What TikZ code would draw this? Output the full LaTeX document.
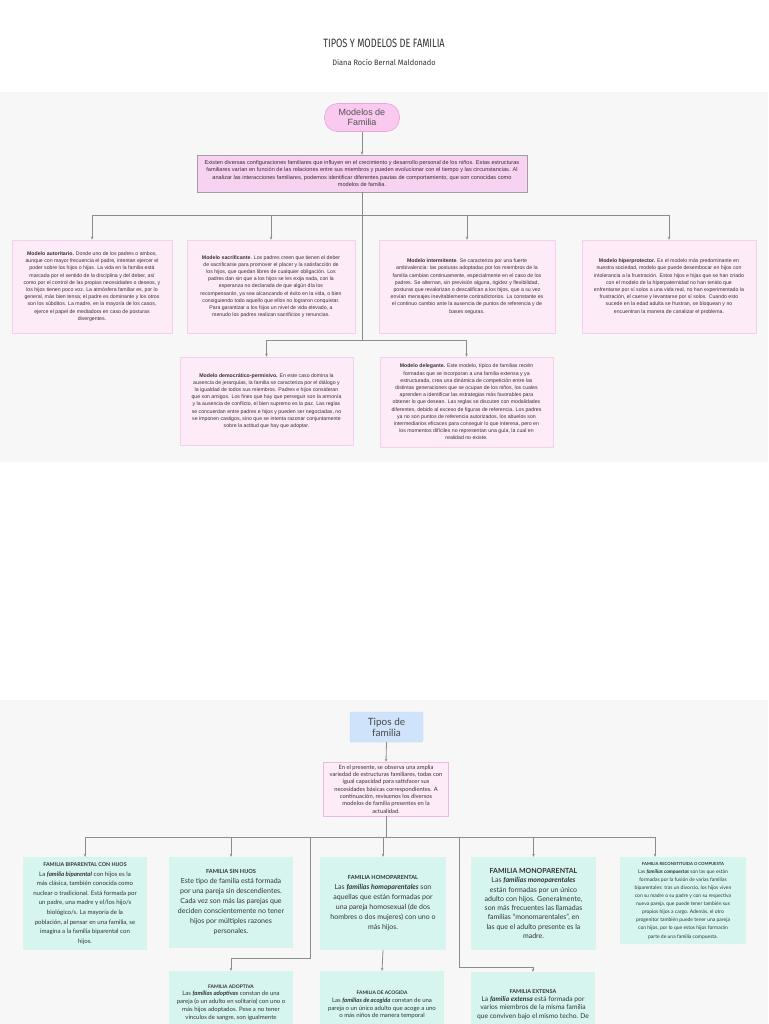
\documentclass[tikz,border=0pt]{standalone}
\usepackage{fontspec}
\setmainfont{Liberation Sans}
\newfontfamily\latofont{Lato}
\newfontfamily\ttlfont{Fira Sans}
\usetikzlibrary{arrows.meta}
\definecolor{panel}{HTML}{F7F7F7}
\definecolor{pinkA}{HTML}{F9C9EF}
\definecolor{pinkAb}{HTML}{E9A6DC}
\definecolor{pinkB}{HTML}{F8D2F1}
\definecolor{pinkC}{HTML}{FDEBF8}
\definecolor{pinkCb}{HTML}{F6CFEC}
\definecolor{blueA}{HTML}{CFE4FA}
\definecolor{mint}{HTML}{D6F5EF}
\definecolor{txt}{HTML}{333333}
\definecolor{connc}{HTML}{8C8C8C}
\tikzset{
  pbox/.style={draw=pinkCb, fill=pinkC, line width=0.6pt, inner sep=2pt, align=center, text=txt, font=\fontsize{5.2}{7.2}\selectfont},
  mbox/.style={fill=mint, draw=none, inner sep=2pt, align=center, text=txt},
  connline/.style={draw=connc, line width=0.8pt},
  arr/.style={connline, -{Stealth[length=3pt,width=2.6pt]}}
}
\begin{document}
\begin{tikzpicture}[x=1pt,y=-1pt]
\useasboundingbox (0,0) rectangle (768,1024);
\clip (0,0) rectangle (768,1024);
\fill[white] (0,0) rectangle (768,1024);
\fill[panel] (0,92) rectangle (768,462);
\fill[panel] (0,700) rectangle (768,1024);

% titles
\node[text=txt] (title) at (384,43) {\scalebox{0.8}[1.05]{\ttlfont\fontsize{11.5}{13}\selectfont TIPOS Y MODELOS DE FAMILIA}};
\node[text=txt] (author) at (384,62) {\scalebox{0.95}[1]{\ttlfont\fontsize{7.8}{9}\selectfont Diana Rocío Bernal Maldonado}};

% ---------- Modelos de familia ----------
\node[draw=pinkAb, fill=pinkA, rounded corners=13pt, minimum width=75, minimum height=28, align=center, text=txt!85!white, font=\fontsize{9}{10}\selectfont, line width=0.6pt] (mf) at (362,117.5) {Modelos de\\Familia};

\node[draw=gray!75, fill=pinkB, line width=0.6pt, minimum width=330, minimum height=37, align=center, text=txt, font=\fontsize{5.6}{7.3}\selectfont] (cen) at (362,173.5) {Existen diversas configuraciones familiares que influyen en el crecimiento y desarrollo personal de los niños. Estas estructuras\\familiares varían en función de las relaciones entre sus miembros y pueden evolucionar con el tiempo y las circunstancias. Al\\analizar las interacciones familiares, podemos identificar diferentes pautas de comportamiento, que son conocidas como\\modelos de familia.};

\node[pbox, minimum width=160, minimum height=93] (m1) at (92,286.5) {\textbf{Modelo autoritario.} Donde uno de los padres o ambos,\\aunque con mayor frecuencia el padre, intentan ejercer el\\poder sobre los hijos o hijas. La vida en la familia está\\marcada por el sentido de la disciplina y del deber, así\\como por el control de las propias necesidades o deseos, y\\los hijos tienen poco voz. La atmósfera familiar es, por lo\\general, más bien tensa; el padre es dominante y los otros\\son los súbditos. La madre, en la mayoría de los casos,\\ejerce el papel de mediadora en caso de posturas\\divergentes.};

\node[pbox, minimum width=168, minimum height=93] (m2) at (271,286.5) {\textbf{Modelo sacrificante}. Los padres creen que tienen el deber\\de sacrificarse para promover el placer y la satisfacción de\\los hijos, que quedan libres de cualquier obligación. Los\\padres dan sin que a los hijos se les exija nada, con la\\esperanza no declarada de que algún día los\\recompensarán, ya sea alcanzando el éxito en la vida, o bien\\consiguiendo todo aquello que ellos no lograron conquistar.\\Para garantizar a los hijos un nivel de vida elevado, a\\menudo los padres realizan sacrificios y renuncias.};

\node[pbox, minimum width=176, minimum height=93] (m3) at (467,286.5) {\textbf{Modelo intermitente}. Se caracteriza por una fuerte\\ambivalencia: las posturas adoptadas por los miembros de la\\familia cambian continuamente, especialmente en el caso de los\\padres. Se alternan, sin previsión alguna, rigidez y flexibilidad,\\posturas que revalorizan o descalifican a los hijos, que a su vez\\envían mensajes inevitablemente contradictorios. La constante es\\el continuo cambio ante la ausencia de puntos de referencia y de\\bases seguras.};

\node[pbox, minimum width=174, minimum height=93] (m4) at (669,286.5) {\textbf{Modelo hiperprotector.} Es el modelo más predominante en\\nuestra sociedad, modelo que puede desembocar en hijos con\\intolerancia a la frustración. Estos hijos e hijas que se han criado\\con el modelo de la hiperpaternidad no han tenido que\\enfrentarse por sí solos a una vida real, no han experimentado la\\frustración, el caerse y levantarse por sí solos. Cuando esto\\sucede en la edad adulta se frustran, se bloquean y no\\encuentran la manera de canalizar el problema.};

\node[pbox, minimum width=173, minimum height=88] (m5) at (266.5,401) {\textbf{Modelo democrático-permisivo.} En este caso domina la\\ausencia de jerarquías, la familia se caracteriza por el diálogo y\\la igualdad de todos sus miembros. Padres e hijos consideran\\que son amigos. Los fines que hay que perseguir son la armonía\\y la ausencia de conflicto, el bien supremo es la paz. Las reglas\\se concuerdan entre padres e hijos y pueden ser negociadas, no\\se imponen castigos, sino que se intenta razonar conjuntamente\\sobre la actitud que hay que adoptar.};

\node[pbox, minimum width=173, minimum height=90] (m6) at (466.5,402) {\textbf{Modelo delegante.} Este modelo, típico de familias recién\\formadas que se incorporan a una familia extensa y ya\\estructurada, crea una dinámica de competición entre las\\distintas generaciones que se ocupan de los niños, los cuales\\aprenden a identificar las estrategias más favorables para\\obtener lo que desean. Las reglas se discuten con modalidades\\diferentes, debido al exceso de figuras de referencia. Los padres\\ya no son puntos de referencia autorizados, los abuelos son\\intermediarios eficaces para conseguir lo que interesa, pero en\\los momentos difíciles no representan una guía, la cual en\\realidad no existe.};

% top connectors
\coordinate (bus) at (0,215);
\coordinate (busb) at (0,340);
\draw[arr] (mf.south) -- (cen.north);
\draw[connline] (cen.south) -- (cen.south |- busb);
\draw[connline] (m1.north |- bus) -- (m4.north |- bus);
\draw[arr] (m1.north |- bus) -- (m1.north);
\draw[arr] (m2.north |- bus) -- (m2.north);
\draw[arr] (m3.north |- bus) -- (m3.north);
\draw[arr] (m4.north |- bus) -- (m4.north);
\draw[connline] (m5.north |- busb) -- (m6.north |- busb);
\draw[arr] (m5.north |- busb) -- (m5.north);
\draw[arr] (m6.north |- busb) -- (m6.north);

% ---------- Tipos de familia ----------
\node[fill=blueA, draw=blueA!85!gray, line width=0.4pt, rounded corners=1.5pt, minimum width=73, minimum height=30, align=center, text=txt!90!white, font=\latofont\fontsize{10}{11}\selectfont] (tf) at (386.5,727) {Tipos de\\familia};

\node[pbox, draw=pinkAb!80!white, minimum width=125, minimum height=54, font=\latofont\fontsize{5.8}{7.3}\selectfont] (pk) at (386,789) {En el presente, se observa una amplia\\variedad de estructuras familiares, todas con\\igual capacidad para satisfacer sus\\necesidades básicas correspondientes. A\\continuación, revisamos los diversos\\modelos de familia presentes en la\\actualidad.};

\node[mbox, minimum width=124, minimum height=93, font=\latofont\fontsize{6.1}{9.6}\selectfont] (b1) at (85,903.5) {{\fontsize{5.3}{9.6}\selectfont\bfseries FAMILIA BIPARENTAL CON HIJOS}\\La \textbf{\textit{familia biparental}} con hijos es la\\más clásica, también conocida como\\nuclear o tradicional. Está formada por\\un padre, una madre y el/los hijo/s\\biológico/s. La mayoría de la\\población, al pensar en una familia, se\\imagina a la familia biparental con\\hijos.};

\node[mbox, minimum width=124, minimum height=91, font=\latofont\fontsize{7}{10}\selectfont] (b2) at (231,902.5) {{\fontsize{5.6}{10}\selectfont\bfseries FAMILIA SIN HIJOS}\\Este tipo de familia está formada\\por una pareja sin descendientes.\\Cada vez son más las parejas que\\deciden conscientemente no tener\\hijos por múltiples razones\\personales.};

\node[mbox, minimum width=126, minimum height=93, font=\latofont\fontsize{7}{10}\selectfont] (b3) at (383,903.5) {{\fontsize{5.6}{10}\selectfont\bfseries FAMILIA HOMOPARENTAL}\\Las \textbf{\textit{familias homoparentales}} son\\aquellas que están formadas por\\una pareja homosexual (de dos\\hombres o dos mujeres) con uno o\\más hijos.};

\node[mbox, minimum width=125, minimum height=93, font=\latofont\fontsize{7}{9.3}\selectfont] (b4) at (533.5,903.5) {{\fontsize{7}{11}\selectfont\bfseries FAMILIA MONOPARENTAL}\\Las \textbf{\textit{familias monoparentales}}\\están formadas por un único\\adulto con hijos. Generalmente,\\son más frecuentes las llamadas\\familias “monomarentales”, en\\las que el adulto presente es la\\madre.};

\node[mbox, minimum width=126, minimum height=87, font=\latofont\fontsize{5}{8.1}\selectfont] (b5) at (683,900.5) {{\fontsize{4.2}{8.1}\selectfont\bfseries FAMILIA RECONSTITUIDA O COMPUESTA}\\Las \textbf{\textit{familias compuestas}} son las que están\\formadas por la fusión de varias familias\\biparentales: tras un divorcio, los hijos viven\\con su madre o su padre y con su respectiva\\nueva pareja, que puede tener también sus\\propios hijos a cargo. Además, el otro\\progenitor también puede tener una pareja\\con hijos, por lo que estos hijos formarán\\parte de una familia compuesta.};

% second row (cut by the page edge)
\node[mbox, minimum width=124, minimum height=80] (a1) at (231,1011) {};
\node[mbox, minimum width=124, minimum height=80] (ac) at (382,1011) {};
\node[mbox, minimum width=124, minimum height=80] (ex) at (533,1012) {};
\node[anchor=north, align=center, text=txt, inner sep=0pt, font=\latofont\fontsize{6}{7.7}\selectfont] (a1t) at (231,984.5) {{\fontsize{4.9}{7.7}\selectfont\bfseries FAMILIA ADOPTIVA}\\Las \textbf{\textit{familias adoptivas}} constan de una\\pareja (o un adulto en solitario) con uno o\\más hijos adoptados. Pese a no tener\\vínculos de sangre, son igualmente};
\node[anchor=north, align=center, text=txt, inner sep=0pt, font=\latofont\fontsize{6}{7.9}\selectfont] (act) at (382,990.5) {{\fontsize{4.9}{7.9}\selectfont\bfseries FAMILIA DE ACOGIDA}\\Las \textbf{\textit{familias de acogida}} constan de una\\pareja o un único adulto que acoge a uno\\o más niños de manera temporal};
\node[anchor=north, align=center, text=txt, inner sep=0pt, font=\latofont\fontsize{6.7}{8.4}\selectfont] (ext) at (533,989) {{\fontsize{5.4}{8.4}\selectfont\bfseries FAMILIA EXTENSA}\\La \textbf{\textit{familia extensa}} está formada por\\varios miembros de la misma familia\\que conviven bajo el mismo techo. De};

% bottom connectors
\coordinate (bus3) at (0,837);
\coordinate (v1) at (310,837);
\coordinate (v1e) at (310,958);
\coordinate (v2) at (459,837);
\coordinate (v2e) at (459,967);
\coordinate (b5a) at (655,837);
\draw[arr] (tf.south) -- (pk.north);
\draw[connline] (pk.south) -- (pk.south |- bus3);
\draw[connline] (b1.north |- bus3) -- (b5a);
\draw[arr] (b1.north |- bus3) -- (b1.north);
\draw[arr] (b2.north |- bus3) -- (b2.north);
\draw[arr] (b3.north |- bus3) -- (b3.north);
\draw[arr] (b4.north |- bus3) -- (b4.north);
\draw[arr] (b5a) -- (b5a |- b5.north);
\draw[arr] (v1) -- (v1e) -| (a1.north);
\draw[arr] (b3.south) -- (ac.north);
\draw[arr] (v2) -- (v2e) -| (ex.north);
\end{tikzpicture}
\end{document}
